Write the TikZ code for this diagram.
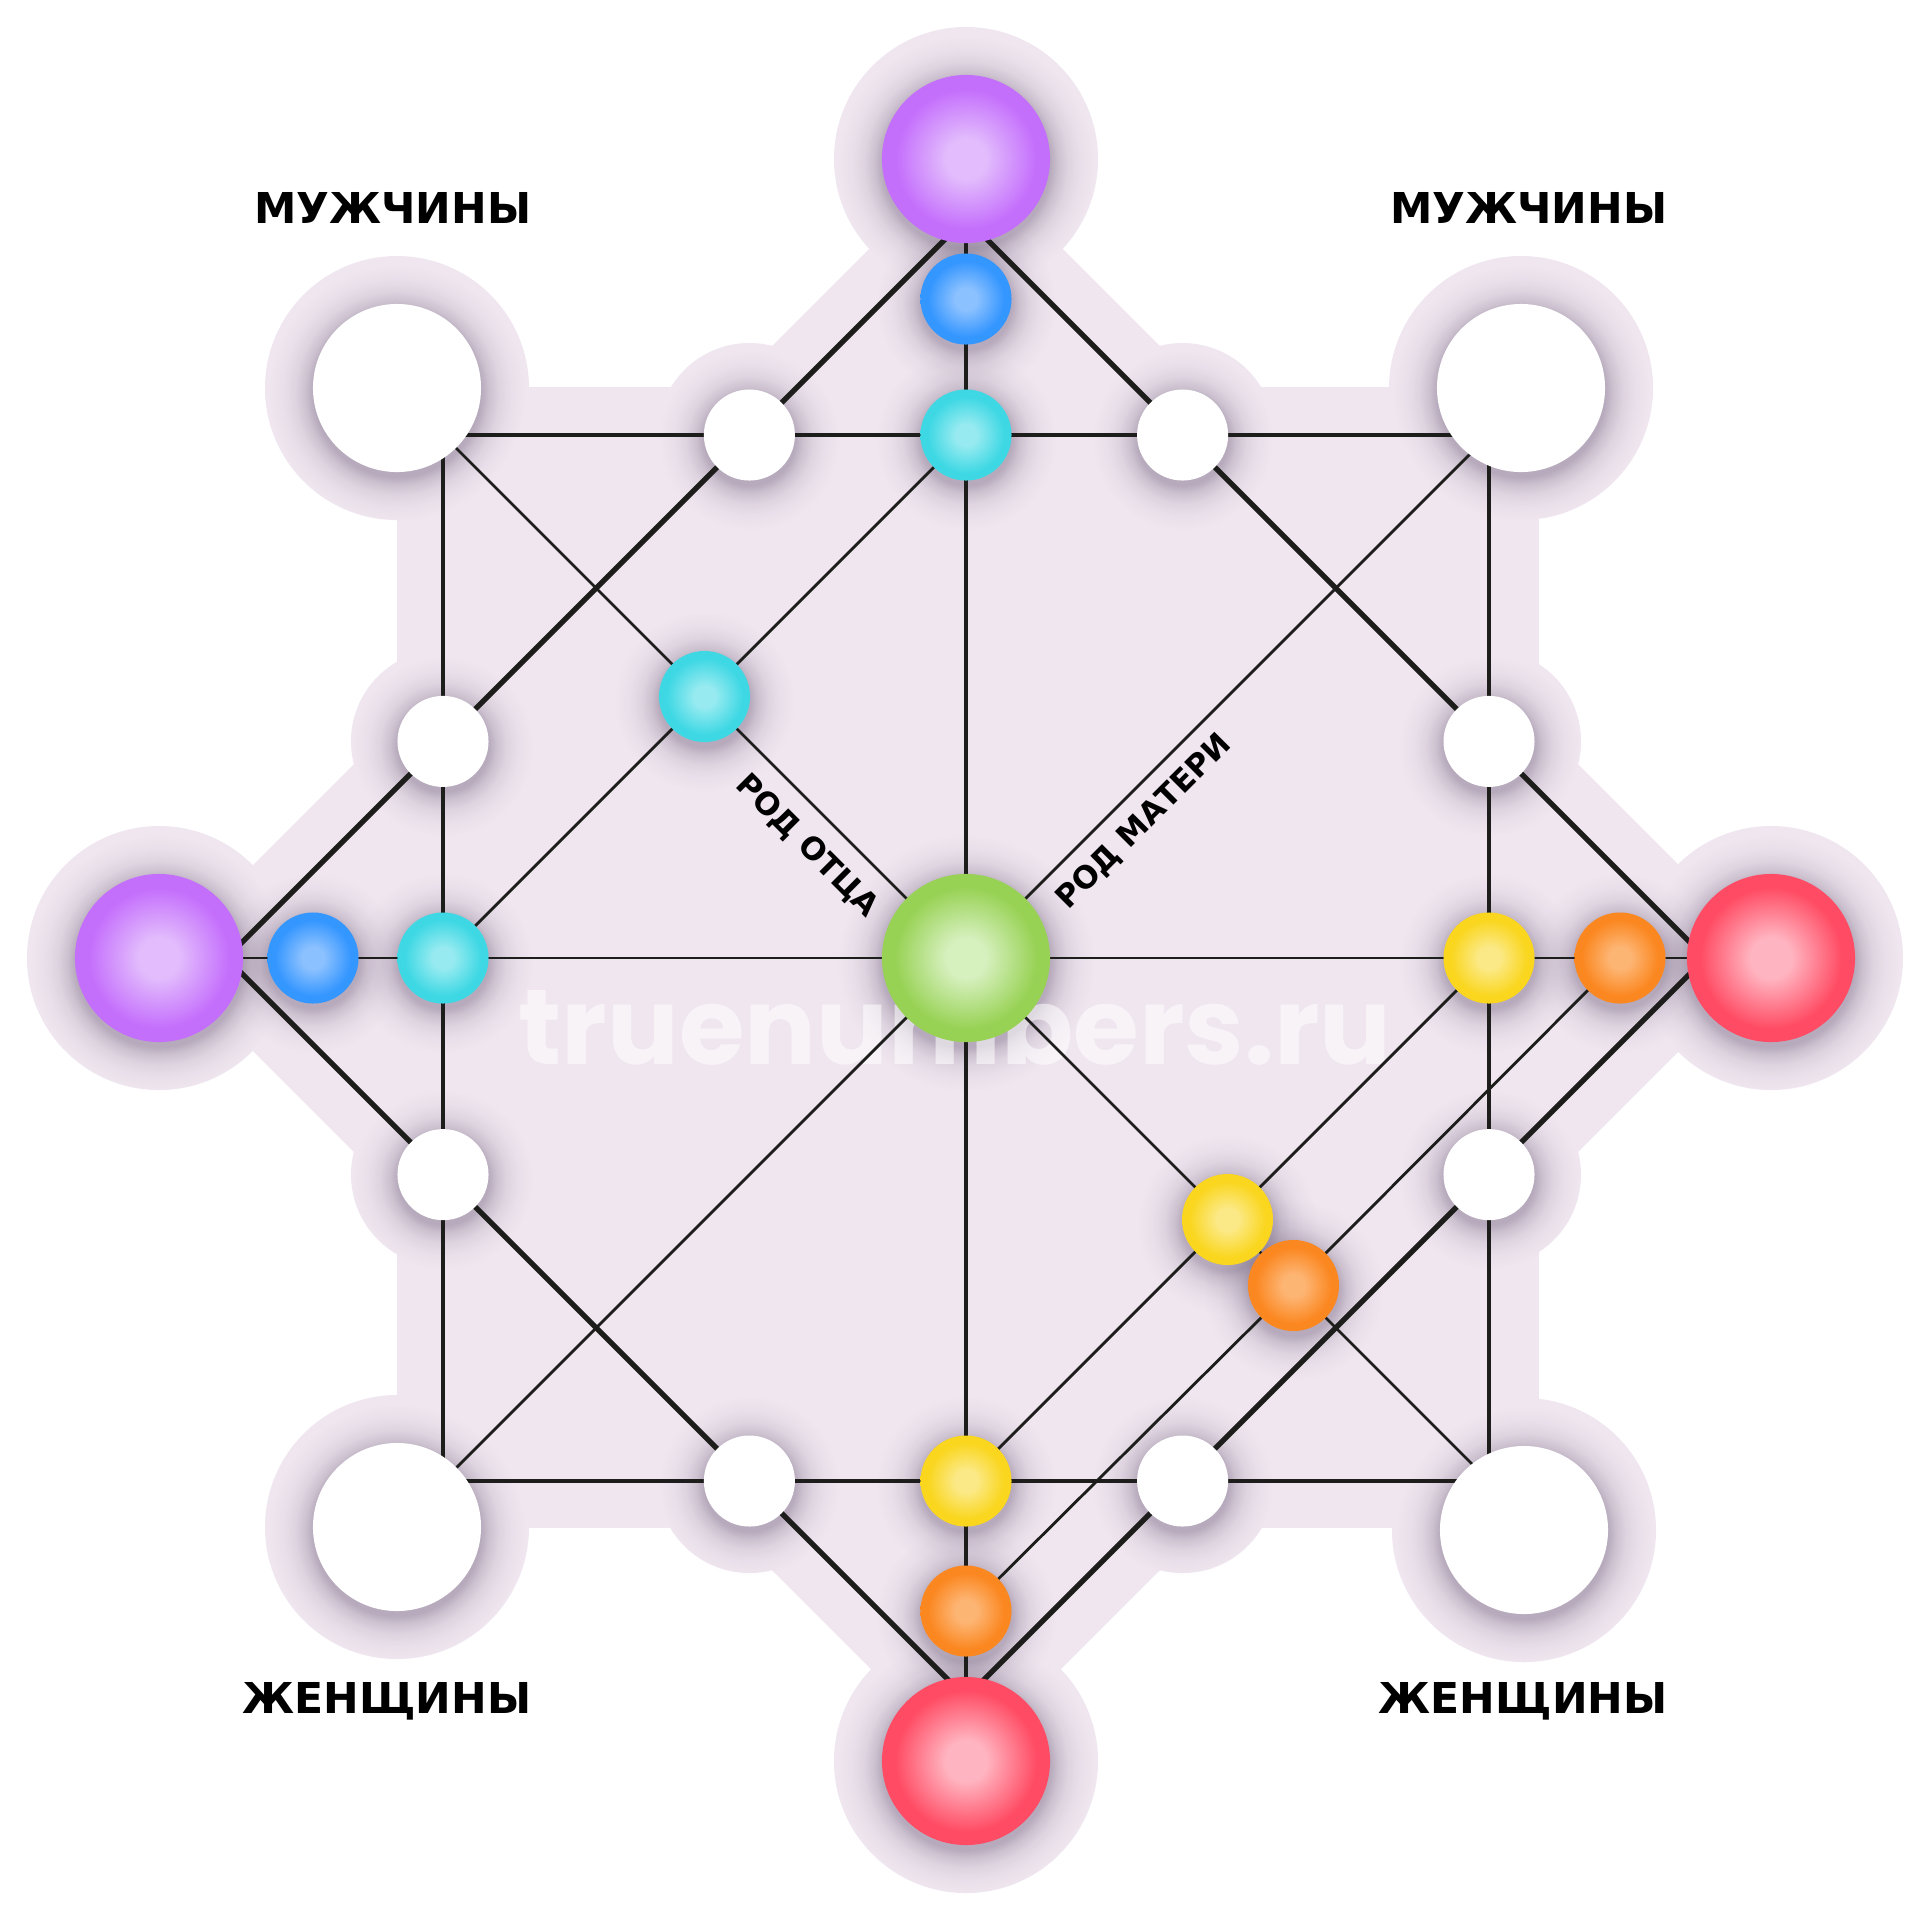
\documentclass[tikz,border=0pt]{standalone}
\usepackage{fontspec}
\setmainfont{DejaVu Sans}
\newfontfamily\wmfont{Poppins}
\pgfdeclarelayer{bg}
\pgfsetlayers{bg,main}

\definecolor{lav}{RGB}{239,230,239}
\definecolor{ink}{RGB}{29,29,27}
\definecolor{sh0}{RGB}{195,189,201}
\definecolor{sh1}{RGB}{219,215,222}
\definecolor{sh2}{RGB}{237,235,239}
\definecolor{sh3}{RGB}{249,248,250}
\definecolor{pin}{RGB}{226,188,252}\definecolor{pout}{RGB}{196,110,252}
\definecolor{bluin}{RGB}{140,193,255}\definecolor{bluout}{RGB}{52,150,255}
\definecolor{cyin}{RGB}{150,234,240}\definecolor{cyout}{RGB}{62,216,228}
\definecolor{grin}{RGB}{214,240,190}\definecolor{grout}{RGB}{152,210,85}
\definecolor{yein}{RGB}{251,233,135}\definecolor{yeout}{RGB}{250,214,30}
\definecolor{orin}{RGB}{253,181,116}\definecolor{orout}{RGB}{251,135,32}
\definecolor{rdin}{RGB}{255,181,193}\definecolor{rdout}{RGB}{255,76,100}
\colorlet{bin}{white}
\colorlet{bout}{white}
\newcommand{\setballcolors}[2]{\colorlet{bin}{#1}\colorlet{bout}{#2}}

% the path's bounding box maps to the central 50bp square: path radius = 25bp
\pgfdeclareradialshading{halobig}{\pgfpoint{0bp}{0bp}}{color(0bp)=(sh0); color(15.9bp)=(sh0); color(17.4bp)=(sh1); color(19.3bp)=(sh2); color(21.6bp)=(sh3); color(24.4bp)=(white); color(50bp)=(white)}
\pgfdeclareradialshading{halosmall}{\pgfpoint{0bp}{0bp}}{color(0bp)=(sh0); color(12.35bp)=(sh0); color(14.5bp)=(sh1); color(17.25bp)=(sh2); color(20.5bp)=(sh3); color(24.6bp)=(white); color(50bp)=(white)}
\pgfdeclareradialshading[bin,bout]{myball}{\pgfpoint{0bp}{0bp}}{color(0bp)=(bin); color(6bp)=(bin); color(21bp)=(bout); color(25bp)=(bout); color(50bp)=(bout)}

\tikzset{
  bigc/.style={circle, inner sep=0pt, minimum size=1.68cm},
  smallc/.style={circle, inner sep=0pt, minimum size=0.91cm},
  whitec/.style={fill=white},
  purpleb/.style={/utils/exec=\setballcolors{pin}{pout}, shading=myball},
  blueb/.style={/utils/exec=\setballcolors{bluin}{bluout}, shading=myball},
  cyanb/.style={/utils/exec=\setballcolors{cyin}{cyout}, shading=myball},
  greenb/.style={/utils/exec=\setballcolors{grin}{grout}, shading=myball},
  yellowb/.style={/utils/exec=\setballcolors{yein}{yeout}, shading=myball},
  orangeb/.style={/utils/exec=\setballcolors{orin}{orout}, shading=myball},
  redb/.style={/utils/exec=\setballcolors{rdin}{rdout}, shading=myball},
  thickl/.style={draw=ink, line width=1.5pt},
  medl/.style={draw=ink, line width=1.4pt},
  vertl/.style={draw=ink, line width=1.25pt},
  thinl/.style={draw=ink, line width=0.8pt},
  biglabel/.style={font=\bfseries\fontsize{12.1}{14}\selectfont, text=black, inner sep=0pt, anchor=base east},
  rotlabel/.style={font=\bfseries\fontsize{8.8}{10}\selectfont, text=black, inner sep=0pt},
}

\begin{document}
\begin{tikzpicture}[x=0.01cm, y=-0.01cm]
\useasboundingbox (0,0) rectangle (1930,1920);

% geometry coordinates
\coordinate (dT) at (966,218.4);
\coordinate (dB) at (966,1697.6);
\coordinate (dL) at (226.4,958);
\coordinate (dR) at (1705.6,958);
\coordinate (sTL) at (443,435);
\coordinate (sTR) at (1489,435);
\coordinate (sBR) at (1489,1481);
\coordinate (sBL) at (443,1481);

% big balls
\node[bigc, purpleb] (top) at (966,159) {};
\node[bigc, purpleb] (left) at (159,958) {};
\node[bigc, redb] (right) at (1771,958) {};
\node[bigc, redb] (bottom) at (966,1761) {};
\node[bigc, greenb] (center) at (966,958) {};
\node[bigc, whitec] (TL) at (397,388) {};
\node[bigc, whitec] (TR) at (1521,388) {};
\node[bigc, whitec] (BL) at (397,1527) {};
\node[bigc, whitec] (BR) at (1524,1530) {};

% small white
\node[smallc, whitec] (wTL) at (749.4,435) {};
\node[smallc, whitec] (wTR) at (1182.6,435) {};
\node[smallc, whitec] (wRT) at (1489,741.4) {};
\node[smallc, whitec] (wRB) at (1489,1174.6) {};
\node[smallc, whitec] (wBR) at (1182.6,1481) {};
\node[smallc, whitec] (wBL) at (749.4,1481) {};
\node[smallc, whitec] (wLB) at (443,1174.6) {};
\node[smallc, whitec] (wLT) at (443,741.4) {};

% coloured small
\node[smallc, blueb] (bT) at (966,299) {};
\node[smallc, blueb] (bL) at (313,958) {};
\node[smallc, cyanb] (cT) at (966,435) {};
\node[smallc, cyanb] (cM) at (704.5,696.5) {};
\node[smallc, cyanb] (cL) at (443,958) {};
\node[smallc, yellowb] (yR) at (1489,958) {};
\node[smallc, yellowb] (yM) at (1227.5,1219.5) {};
\node[smallc, yellowb] (yB) at (966,1481) {};
\node[smallc, orangeb] (oR) at (1620,958) {};
\node[smallc, orangeb] (oM) at (1293.5,1285.5) {};
\node[smallc, orangeb] (oB) at (966,1611) {};

% labels
\node[biglabel] (m1) at (532,223) {МУЖЧИНЫ};
\node[biglabel] (m2) at (1668,223) {МУЖЧИНЫ};
\node[biglabel] (f1) at (532,1713) {ЖЕНЩИНЫ};
\node[biglabel] (f2) at (1668,1713) {ЖЕНЩИНЫ};
\node[rotlabel, rotate=-45] (rf) at (807,846) {РОД ОТЦА};
\node[rotlabel, rotate=45] (rm) at (1144,822) {РОД МАТЕРИ};

\begin{pgfonlayer}{bg}
  % lavender body
  \fill[lav] (397,387) rectangle (1539,1528);
  \fill[lav] (966,152) -- (1772,958) -- (966,1764) -- (160,958) -- cycle;
  \foreach \n in {top,left,right,bottom,center,TL,TR,BL,BR}
    \fill[lav] (\n.center) circle (132);
  \foreach \n in {wTL,wTR,wRT,wRB,wBR,wBL,wLB,wLT,bT,bL,cT,cM,cL,yR,yM,yB,oR,oM,oB}
    \fill[lav] (\n.center) circle (92);
  % soft shadows, slightly offset downwards
  \foreach \n in {top,left,right,bottom,center,TL,TR,BL,BR}
    \shade[shading=halobig, blend mode=multiply] ([yshift=-0.05cm]\n.center) circle (132);
  \foreach \n in {wTL,wTR,wRT,wRB,wBR,wBL,wLB,wLT,bT,bL,cT,cM,cL,yR,yM,yB,oR,oM,oB}
    \shade[shading=halosmall, blend mode=multiply] ([yshift=-0.05cm]\n.center) circle (92);
  % watermark
  \node[font=\wmfont\bfseries\fontsize{30.3}{36}\selectfont, text=white, opacity=0.55, anchor=base, inner sep=0pt] (wm) at (955,1064) {truenumbers.ru};
  % connectors
  \draw[medl] (sTL) -- (sTR) -- (sBR) -- (sBL) -- cycle;
  \draw[thickl] (dT) -- (wTL.center) -- (wLT.center) -- (dL) -- (wLB.center) -- (wBL.center) -- (dB) -- (wBR.center) -- (wRB.center) -- (dR) -- (wRT.center) -- (wTR.center) -- cycle;
  \draw[vertl] (top.center) -- (bT.center) -- (cT.center) -- (center.center) -- (yB.center) -- (oB.center) -- (bottom.center);
  \draw[thinl] (left.center) -- (bL.center) -- (cL.center) -- (center.center) -- (yR.center) -- (oR.center) -- (right.center);
  \draw[thinl] (sTL) -- (cM.center) -- (center.center) -- (yM.center) -- (oM.center) -- (sBR);
  \draw[thinl] (sBL) -- (center.center) -- (sTR);
  \draw[thinl] (cT.center) -- (cM.center) -- (cL.center);
  \draw[thinl] (yR.center) -- (yM.center) -- (yB.center);
  \draw[thinl] (oR.center) -- (oM.center) -- (oB.center);
\end{pgfonlayer}
\end{tikzpicture}
\end{document}
